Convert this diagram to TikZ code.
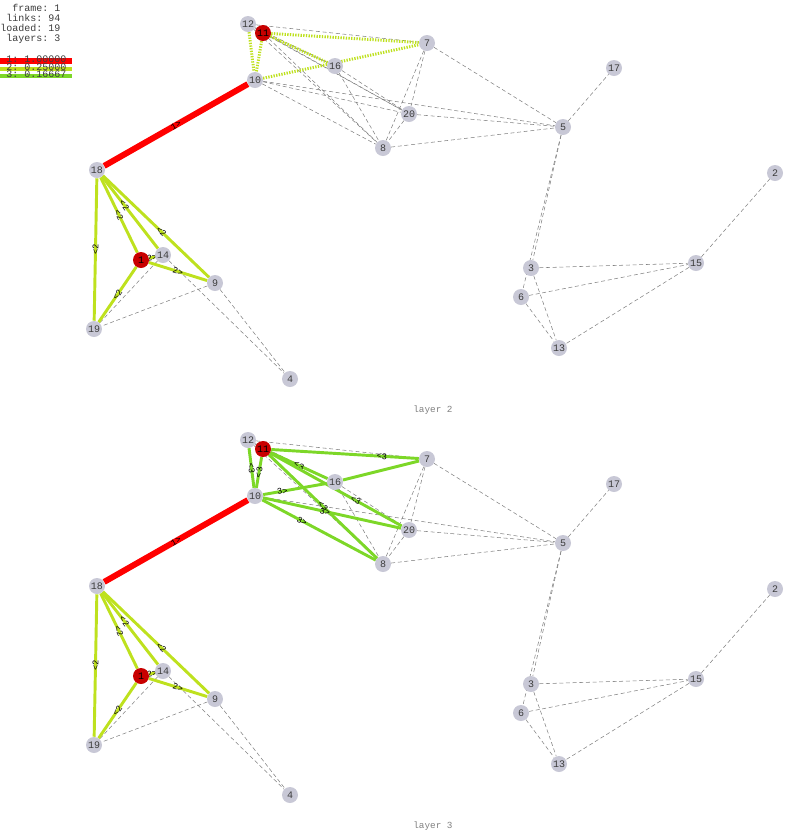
\documentclass[tikz,border=0pt]{standalone}
\usepackage{fontspec}
\setmonofont{Liberation Mono}
\usetikzlibrary{backgrounds}
\definecolor{nodegrey}{RGB}{200,200,214}
\definecolor{hotred}{RGB}{200,0,0}
\definecolor{linkred}{RGB}{255,0,0}
\definecolor{linklime}{RGB}{190,225,30}
\definecolor{linkgreen}{RGB}{125,215,40}
\definecolor{textgrey}{RGB}{60,60,60}
\begin{document}
\begin{tikzpicture}[
    x=0.75pt, y=-0.75pt,
    vertex/.style={circle, fill=nodegrey, inner sep=0pt, minimum size=12pt, font=\ttfamily\fontsize{7.5}{7.5}\selectfont, text=textgrey},
    hot/.style={vertex, fill=hotred, text=black},
    faint/.style={densely dashed, gray, line width=0.4pt},
    redlink/.style={linkred, line width=4.5pt},
    limelink/.style={linklime, line width=2.2pt},
    greenlink/.style={linkgreen, line width=2.2pt},
    dottedlink/.style={linklime, line width=2.2pt, dash pattern=on 1pt off 1pt},
    tag/.style={sloped, font=\ttfamily\fontsize{6.5}{6.5}\selectfont, text=black, inner sep=0pt}
]
\useasboundingbox (0,0) rectangle (792,833);

% legend
\node[anchor=north west, align=right, font=\ttfamily\fontsize{7.5}{7.5}\selectfont, text=textgrey, inner sep=0pt] (info) at (0,4)
  {frame: 1\\ links: 94\\loaded: 19\\layers: 3};
\draw[linkred, line width=5pt] (0,61) -- (72,61);
\draw[linklime, line width=2.5pt] (0,69) -- (72,69);
\draw[linkgreen, line width=2.5pt] (0,76) -- (72,76);
\node[anchor=west, font=\ttfamily\fontsize{7.5}{7.5}\selectfont, text=textgrey, inner sep=0pt] (lg1) at (0,59) {\ 1: 1.00000};
\node[anchor=west, font=\ttfamily\fontsize{7.5}{7.5}\selectfont, text=textgrey, inner sep=0pt] (lg2) at (0,67) {\ 2: 0.25000};
\node[anchor=west, font=\ttfamily\fontsize{7.5}{7.5}\selectfont, text=textgrey, inner sep=0pt] (lg3) at (0,74) {\ 3: 0.16667};

\foreach \L/\dy/\num in {a/0/2,b/416/3} {
  % vertices
  \foreach \n/\px/\py in {12/248/24,7/427/43,16/335/66,17/614/68,10/255/80,20/409/114,5/563/127,8/383/148,18/97/170,2/775/173,14/163/255,9/215/283,3/531/268,15/696/263,6/521/297,19/94/329,13/559/348,4/290/379}
    \node[vertex] (\L\n) at (\px,\py+\dy) {\n};
  \node[hot] (\L11) at (263,33+\dy) {11};
  \node[hot] (\L1) at (141,260+\dy) {1};
  \node[font=\ttfamily\fontsize{7}{7}\selectfont, text=gray] (\L cap) at (433,410+\dy) {layer \num};
  \begin{scope}[on background layer]
    \foreach \s/\t in {12/7,11/16,11/20,11/8,12/8,12/20,12/16,10/20,10/5,10/8,16/20,16/8,7/20,7/8,7/5,20/5,8/5,20/8,5/17,5/3,5/6,3/15,3/13,6/15,6/13,15/13,15/2,1/19,14/19,9/19,14/4,9/4,1/9}
      \draw[faint] (\L\s) -- (\L\t);
    \draw[redlink] (\L18) -- node[tag] {1>} (\L10);
    \draw[limelink] (\L18) -- node[tag,pos=0.5] {<2} (\L1);
    \draw[limelink] (\L18) -- node[tag,pos=0.4] {<2} (\L14);
    \draw[limelink] (\L18) -- node[tag,pos=0.55] {<2} (\L9);
    \draw[limelink] (\L18) -- node[tag] {<2} (\L19);
    \draw[limelink] (\L1) -- node[tag] {2>} (\L14);
    \draw[limelink] (\L1) -- node[tag] {2>} (\L9);
    \draw[limelink] (\L1) -- node[tag] {<2} (\L19);
  \end{scope}
}

% layer 2 dotted links
\begin{scope}[on background layer]
  \draw[dottedlink] (a11) -- (a10);
  \draw[dottedlink] (a12) -- (a10);
  \draw[dottedlink] (a11) -- (a7);
  \draw[dottedlink] (a11) -- (a16);
  \draw[dottedlink] (a10) -- (a7);
  % layer 3 links
  \draw[greenlink] (b10) -- node[tag] {<3} (b12);
  \draw[greenlink] (b10) -- node[tag] {<3} (b11);
  \draw[greenlink] (b11) -- node[tag,pos=0.75] {<3} (b7);
  \draw[greenlink] (b11) -- node[tag,pos=0.5] {<3} (b16);
  \draw[greenlink] (b11) -- node[tag,pos=0.65] {<3} (b20);
  \draw[greenlink] (b11) -- node[tag,pos=0.5] {<3} (b8);
  \draw[greenlink] (b10) -- node[tag,pos=0.3] {3>} (b16);
  \draw[greenlink] (b10) -- node[tag,pos=0.45] {3>} (b20);
  \draw[greenlink] (b10) -- node[tag,pos=0.35] {3>} (b8);
  \draw[greenlink] (b16) -- (b7);
\end{scope}
\end{tikzpicture}
\end{document}
